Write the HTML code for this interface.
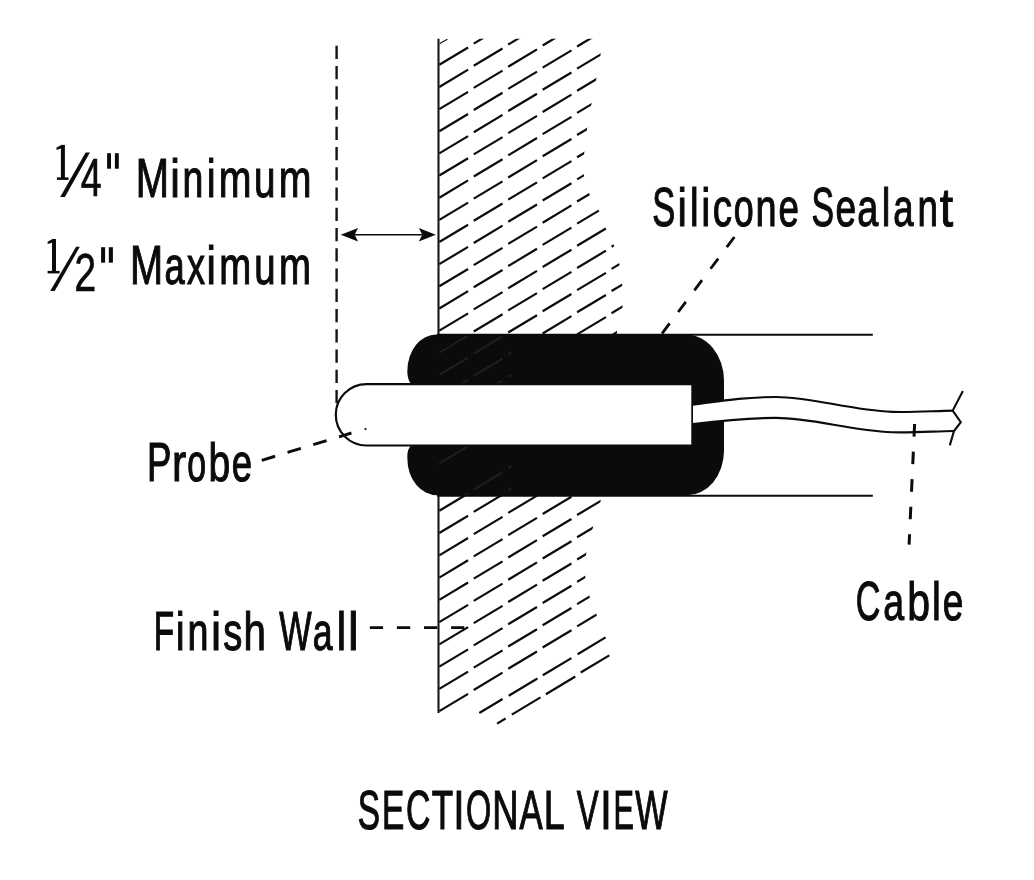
<!DOCTYPE html>
<html><head><meta charset="utf-8"><style>
html,body{margin:0;padding:0;background:#fff;width:1034px;height:880px;overflow:hidden}
svg{display:block;filter:grayscale(1)}
text{font-family:"Liberation Sans",sans-serif;fill:#0b0b0b;stroke:#0b0b0b;stroke-width:1.0px;vector-effect:non-scaling-stroke}
</style></head><body>
<svg width="1034" height="880" viewBox="0 0 1034 880">
<defs>
<clipPath id="cu"><polygon points="437,38.7 602,38.7 600.5,55.5 596,80.5 591.4,104.5 586.9,129.6 584.1,154 583.9,176 589.7,195 599.4,211.5 609,228 614,246 619.5,264.5 622.5,287 622.5,309 617,330 617,340 437,340"/></clipPath>
<clipPath id="cl"><polygon points="437,490 601,490 600.5,501.9 592.5,528.9 586,554.4 585.3,578.1 589.7,596.9 596.8,615.3 605.4,638 610.5,655.3 612,660 612,712.5 437,712.5"/></clipPath>
<clipPath id="cb"><path d="M436.4 334.5 L686 334.5 A38 46 0 0 1 724 380.5 L724 450.7 A37 44.5 0 0 1 686.6 495.3 L437.4 495.3 A30 36 0 0 1 407.4 459.3 L407.3 456 Q407.5 448.6 411.2 445.5 L411.2 384 Q407.8 380.8 407.3 372 L407.4 370.5 A29 36 0 0 1 436.4 334.5 Z"/></clipPath>
<clipPath id="cbx"><rect x="437" y="330" width="74.5" height="170"/></clipPath>
</defs>
<rect width="1034" height="880" fill="#fff"/>
<g id="hatch" stroke="#0b0b0b" stroke-width="2.2" fill="none">
<path clip-path="url(#cu)" d="M473.75 21.45L502.55 4.17M508.20 0.25L537.00 -17.03M542.65 -20.95L571.45 -38.23M577.10 -42.15L605.90 -59.43M611.55 -63.35L640.35 -80.63M439.30 64.80L468.10 47.52M473.75 43.60L502.55 26.32M508.20 22.40L537.00 5.12M542.65 1.20L571.45 -16.08M577.10 -20.00L605.90 -37.28M611.55 -41.20L640.35 -58.48M439.30 86.95L468.10 69.67M473.75 65.75L502.55 48.47M508.20 44.55L537.00 27.27M542.65 23.35L571.45 6.07M577.10 2.15L605.90 -15.13M611.55 -19.05L640.35 -36.33M439.30 109.10L468.10 91.82M473.75 87.90L502.55 70.62M508.20 66.70L537.00 49.42M542.65 45.50L571.45 28.22M577.10 24.30L605.90 7.02M611.55 3.10L640.35 -14.18M439.30 131.25L468.10 113.97M473.75 110.05L502.55 92.77M508.20 88.85L537.00 71.57M542.65 67.65L571.45 50.37M577.10 46.45L605.90 29.17M611.55 25.25L640.35 7.97M439.30 153.40L468.10 136.12M473.75 132.20L502.55 114.92M508.20 111.00L537.00 93.72M542.65 89.80L571.45 72.52M577.10 68.60L605.90 51.32M611.55 47.40L640.35 30.12M439.30 175.55L468.10 158.27M473.75 154.35L502.55 137.07M508.20 133.15L537.00 115.87M542.65 111.95L571.45 94.67M577.10 90.75L605.90 73.47M611.55 69.55L640.35 52.27M439.30 197.70L468.10 180.42M473.75 176.50L502.55 159.22M508.20 155.30L537.00 138.02M542.65 134.10L571.45 116.82M577.10 112.90L605.90 95.62M611.55 91.70L640.35 74.42M439.30 219.85L468.10 202.57M473.75 198.65L502.55 181.37M508.20 177.45L537.00 160.17M542.65 156.25L571.45 138.97M577.10 135.05L605.90 117.77M611.55 113.85L640.35 96.57M439.30 242.00L468.10 224.72M473.75 220.80L502.55 203.52M508.20 199.60L537.00 182.32M542.65 178.40L571.45 161.12M577.10 157.20L605.90 139.92M611.55 136.00L640.35 118.72M439.30 264.15L468.10 246.87M473.75 242.95L502.55 225.67M508.20 221.75L537.00 204.47M542.65 200.55L571.45 183.27M577.10 179.35L605.90 162.07M611.55 158.15L640.35 140.87M439.30 286.30L468.10 269.02M473.75 265.10L502.55 247.82M508.20 243.90L537.00 226.62M542.65 222.70L571.45 205.42M577.10 201.50L605.90 184.22M611.55 180.30L640.35 163.02M439.30 308.45L468.10 291.17M473.75 287.25L502.55 269.97M508.20 266.05L537.00 248.77M542.65 244.85L571.45 227.57M577.10 223.65L605.90 206.37M611.55 202.45L640.35 185.17M439.30 330.60L468.10 313.32M473.75 309.40L502.55 292.12M508.20 288.20L537.00 270.92M542.65 267.00L571.45 249.72M577.10 245.80L605.90 228.52M611.55 224.60L640.35 207.32M439.30 352.75L468.10 335.47M473.75 331.55L502.55 314.27M508.20 310.35L537.00 293.07M542.65 289.15L571.45 271.87M577.10 267.95L605.90 250.67M611.55 246.75L640.35 229.47M439.30 374.90L468.10 357.62M473.75 353.70L502.55 336.42M508.20 332.50L537.00 315.22M542.65 311.30L571.45 294.02M577.10 290.10L605.90 272.82M611.55 268.90L640.35 251.62M439.30 397.05L468.10 379.77M473.75 375.85L502.55 358.57M508.20 354.65L537.00 337.37M542.65 333.45L571.45 316.17M577.10 312.25L605.90 294.97M611.55 291.05L640.35 273.77M439.30 419.20L468.10 401.92M473.75 398.00L502.55 380.72M508.20 376.80L537.00 359.52M542.65 355.60L571.45 338.32M577.10 334.40L605.90 317.12M611.55 313.20L640.35 295.92M439.30 441.35L468.10 424.07M473.75 420.15L502.55 402.87M508.20 398.95L537.00 381.67M542.65 377.75L571.45 360.47M577.10 356.55L605.90 339.27M611.55 335.35L640.35 318.07M439.30 463.50L468.10 446.22M473.75 442.30L502.55 425.02M508.20 421.10L537.00 403.82M542.65 399.90L571.45 382.62M577.10 378.70L605.90 361.42M611.55 357.50L640.35 340.22M439.30 485.65L468.10 468.37M473.75 464.45L502.55 447.17M508.20 443.25L537.00 425.97M542.65 422.05L571.45 404.77M577.10 400.85L605.90 383.57M611.55 379.65L640.35 362.37M439.30 510.80L468.10 493.52M473.75 489.60L502.55 472.32M508.20 468.40L537.00 451.12M542.65 447.20L571.45 429.92M577.10 426.00L605.90 408.72M611.55 404.80L640.35 387.52M439.30 533.06L468.10 515.78M473.75 511.86L502.55 494.58M508.20 490.66L537.00 473.38M542.65 469.46L571.45 452.18M577.10 448.26L605.90 430.98M611.55 427.06L640.35 409.78M439.30 555.32L468.10 538.04M473.75 534.12L502.55 516.84M508.20 512.92L537.00 495.64M542.65 491.72L571.45 474.44M577.10 470.52L605.90 453.24M611.55 449.32L640.35 432.04M439.30 577.58L468.10 560.30M473.75 556.38L502.55 539.10M508.20 535.18L537.00 517.90M542.65 513.98L571.45 496.70M577.10 492.78L605.90 475.50M611.55 471.58L640.35 454.30M439.30 599.84L468.10 582.56M473.75 578.64L502.55 561.36M508.20 557.44L537.00 540.16M542.65 536.24L571.45 518.96M577.10 515.04L605.90 497.76M611.55 493.84L640.35 476.56M439.30 622.10L468.10 604.82M473.75 600.90L502.55 583.62M508.20 579.70L537.00 562.42M542.65 558.50L571.45 541.22M577.10 537.30L605.90 520.02M611.55 516.10L640.35 498.82M439.30 644.36L468.10 627.08M473.75 623.16L502.55 605.88M508.20 601.96L537.00 584.68M542.65 580.76L571.45 563.48M577.10 559.56L605.90 542.28M611.55 538.36L640.35 521.08M439.30 666.62L468.10 649.34M473.75 645.42L502.55 628.14M508.20 624.22L537.00 606.94M542.65 603.02L571.45 585.74M577.10 581.82L605.90 564.54M611.55 560.62L640.35 543.34M439.30 688.88L468.10 671.60M473.75 667.68L502.55 650.40M508.20 646.48L537.00 629.20M542.65 625.28L571.45 608.00M577.10 604.08L605.90 586.80M611.55 582.88L640.35 565.60M439.30 711.14L468.10 693.86M473.75 689.94L502.55 672.66M508.20 668.74L537.00 651.46M542.65 647.54L571.45 630.26M577.10 626.34L605.90 609.06M611.55 605.14L640.35 587.86"/>
<path clip-path="url(#cl)" d="M473.75 21.45L502.55 4.17M508.20 0.25L537.00 -17.03M542.65 -20.95L571.45 -38.23M577.10 -42.15L605.90 -59.43M611.55 -63.35L640.35 -80.63M439.30 64.80L468.10 47.52M473.75 43.60L502.55 26.32M508.20 22.40L537.00 5.12M542.65 1.20L571.45 -16.08M577.10 -20.00L605.90 -37.28M611.55 -41.20L640.35 -58.48M439.30 86.95L468.10 69.67M473.75 65.75L502.55 48.47M508.20 44.55L537.00 27.27M542.65 23.35L571.45 6.07M577.10 2.15L605.90 -15.13M611.55 -19.05L640.35 -36.33M439.30 109.10L468.10 91.82M473.75 87.90L502.55 70.62M508.20 66.70L537.00 49.42M542.65 45.50L571.45 28.22M577.10 24.30L605.90 7.02M611.55 3.10L640.35 -14.18M439.30 131.25L468.10 113.97M473.75 110.05L502.55 92.77M508.20 88.85L537.00 71.57M542.65 67.65L571.45 50.37M577.10 46.45L605.90 29.17M611.55 25.25L640.35 7.97M439.30 153.40L468.10 136.12M473.75 132.20L502.55 114.92M508.20 111.00L537.00 93.72M542.65 89.80L571.45 72.52M577.10 68.60L605.90 51.32M611.55 47.40L640.35 30.12M439.30 175.55L468.10 158.27M473.75 154.35L502.55 137.07M508.20 133.15L537.00 115.87M542.65 111.95L571.45 94.67M577.10 90.75L605.90 73.47M611.55 69.55L640.35 52.27M439.30 197.70L468.10 180.42M473.75 176.50L502.55 159.22M508.20 155.30L537.00 138.02M542.65 134.10L571.45 116.82M577.10 112.90L605.90 95.62M611.55 91.70L640.35 74.42M439.30 219.85L468.10 202.57M473.75 198.65L502.55 181.37M508.20 177.45L537.00 160.17M542.65 156.25L571.45 138.97M577.10 135.05L605.90 117.77M611.55 113.85L640.35 96.57M439.30 242.00L468.10 224.72M473.75 220.80L502.55 203.52M508.20 199.60L537.00 182.32M542.65 178.40L571.45 161.12M577.10 157.20L605.90 139.92M611.55 136.00L640.35 118.72M439.30 264.15L468.10 246.87M473.75 242.95L502.55 225.67M508.20 221.75L537.00 204.47M542.65 200.55L571.45 183.27M577.10 179.35L605.90 162.07M611.55 158.15L640.35 140.87M439.30 286.30L468.10 269.02M473.75 265.10L502.55 247.82M508.20 243.90L537.00 226.62M542.65 222.70L571.45 205.42M577.10 201.50L605.90 184.22M611.55 180.30L640.35 163.02M439.30 308.45L468.10 291.17M473.75 287.25L502.55 269.97M508.20 266.05L537.00 248.77M542.65 244.85L571.45 227.57M577.10 223.65L605.90 206.37M611.55 202.45L640.35 185.17M439.30 330.60L468.10 313.32M473.75 309.40L502.55 292.12M508.20 288.20L537.00 270.92M542.65 267.00L571.45 249.72M577.10 245.80L605.90 228.52M611.55 224.60L640.35 207.32M439.30 352.75L468.10 335.47M473.75 331.55L502.55 314.27M508.20 310.35L537.00 293.07M542.65 289.15L571.45 271.87M577.10 267.95L605.90 250.67M611.55 246.75L640.35 229.47M439.30 374.90L468.10 357.62M473.75 353.70L502.55 336.42M508.20 332.50L537.00 315.22M542.65 311.30L571.45 294.02M577.10 290.10L605.90 272.82M611.55 268.90L640.35 251.62M439.30 397.05L468.10 379.77M473.75 375.85L502.55 358.57M508.20 354.65L537.00 337.37M542.65 333.45L571.45 316.17M577.10 312.25L605.90 294.97M611.55 291.05L640.35 273.77M439.30 419.20L468.10 401.92M473.75 398.00L502.55 380.72M508.20 376.80L537.00 359.52M542.65 355.60L571.45 338.32M577.10 334.40L605.90 317.12M611.55 313.20L640.35 295.92M439.30 441.35L468.10 424.07M473.75 420.15L502.55 402.87M508.20 398.95L537.00 381.67M542.65 377.75L571.45 360.47M577.10 356.55L605.90 339.27M611.55 335.35L640.35 318.07M439.30 463.50L468.10 446.22M473.75 442.30L502.55 425.02M508.20 421.10L537.00 403.82M542.65 399.90L571.45 382.62M577.10 378.70L605.90 361.42M611.55 357.50L640.35 340.22M439.30 485.65L468.10 468.37M473.75 464.45L502.55 447.17M508.20 443.25L537.00 425.97M542.65 422.05L571.45 404.77M577.10 400.85L605.90 383.57M611.55 379.65L640.35 362.37M439.30 510.80L468.10 493.52M473.75 489.60L502.55 472.32M508.20 468.40L537.00 451.12M542.65 447.20L571.45 429.92M577.10 426.00L605.90 408.72M611.55 404.80L640.35 387.52M439.30 533.06L468.10 515.78M473.75 511.86L502.55 494.58M508.20 490.66L537.00 473.38M542.65 469.46L571.45 452.18M577.10 448.26L605.90 430.98M611.55 427.06L640.35 409.78M439.30 555.32L468.10 538.04M473.75 534.12L502.55 516.84M508.20 512.92L537.00 495.64M542.65 491.72L571.45 474.44M577.10 470.52L605.90 453.24M611.55 449.32L640.35 432.04M439.30 577.58L468.10 560.30M473.75 556.38L502.55 539.10M508.20 535.18L537.00 517.90M542.65 513.98L571.45 496.70M577.10 492.78L605.90 475.50M611.55 471.58L640.35 454.30M439.30 599.84L468.10 582.56M473.75 578.64L502.55 561.36M508.20 557.44L537.00 540.16M542.65 536.24L571.45 518.96M577.10 515.04L605.90 497.76M611.55 493.84L640.35 476.56M439.30 622.10L468.10 604.82M473.75 600.90L502.55 583.62M508.20 579.70L537.00 562.42M542.65 558.50L571.45 541.22M577.10 537.30L605.90 520.02M611.55 516.10L640.35 498.82M439.30 644.36L468.10 627.08M473.75 623.16L502.55 605.88M508.20 601.96L537.00 584.68M542.65 580.76L571.45 563.48M577.10 559.56L605.90 542.28M611.55 538.36L640.35 521.08M439.30 666.62L468.10 649.34M473.75 645.42L502.55 628.14M508.20 624.22L537.00 606.94M542.65 603.02L571.45 585.74M577.10 581.82L605.90 564.54M611.55 560.62L640.35 543.34M439.30 688.88L468.10 671.60M473.75 667.68L502.55 650.40M508.20 646.48L537.00 629.20M542.65 625.28L571.45 608.00M577.10 604.08L605.90 586.80M611.55 582.88L640.35 565.60M439.30 711.14L468.10 693.86M473.75 689.94L502.55 672.66M508.20 668.74L537.00 651.46M542.65 647.54L571.45 630.26M577.10 626.34L605.90 609.06M611.55 605.14L640.35 587.86"/>
<path d="M479.30 713.00L502.60 699.02M508.70 695.70L537.40 678.48M542.80 675.30L571.40 658.14M577.60 654.20L605.60 637.40M511.80 714.60L540.50 697.38M545.90 694.20L575.30 676.56M580.70 672.50L609.30 655.34M497.10 723.60L505.60 718.50"/>
<path d="M439.7 43.6L447.4 39.3" stroke-width="1.1"/>
</g>
<line x1="438.5" y1="38.7" x2="438.5" y2="713" stroke="#161616" stroke-width="2.1"/>
<line x1="336.6" y1="45.7" x2="336.6" y2="403" stroke="#141414" stroke-width="2.4" stroke-dasharray="13.2 7.05"/>
<!-- dimension arrow -->
<line x1="352" y1="234.7" x2="424" y2="234.7" stroke="#0b0b0b" stroke-width="1.5"/>
<polygon points="340.7,234.7 358.1,227.9 354.6,234.7 358.1,241.5" fill="#0b0b0b"/>
<polygon points="435.8,234.7 418.8,227.9 422.3,234.7 418.8,241.5" fill="#0b0b0b"/>
<!-- blob -->
<path d="M436.4 334.5 L686 334.5 A38 46 0 0 1 724 380.5 L724 450.7 A37 44.5 0 0 1 686.6 495.3 L437.4 495.3 A30 36 0 0 1 407.4 459.3 L407.3 456 Q407.5 448.6 411.2 445.5 L411.2 384 Q407.8 380.8 407.3 372 L407.4 370.5 A29 36 0 0 1 436.4 334.5 Z" fill="#0b0b0b"/>
<g clip-path="url(#cb)"><g clip-path="url(#cbx)"><path d="M439.30 42.65L468.10 25.37M473.75 21.45L502.55 4.17M508.20 0.25L537.00 -17.03M439.30 64.80L468.10 47.52M473.75 43.60L502.55 26.32M508.20 22.40L537.00 5.12M439.30 86.95L468.10 69.67M473.75 65.75L502.55 48.47M508.20 44.55L537.00 27.27M439.30 109.10L468.10 91.82M473.75 87.90L502.55 70.62M508.20 66.70L537.00 49.42M439.30 131.25L468.10 113.97M473.75 110.05L502.55 92.77M508.20 88.85L537.00 71.57M439.30 153.40L468.10 136.12M473.75 132.20L502.55 114.92M508.20 111.00L537.00 93.72M439.30 175.55L468.10 158.27M473.75 154.35L502.55 137.07M508.20 133.15L537.00 115.87M439.30 197.70L468.10 180.42M473.75 176.50L502.55 159.22M508.20 155.30L537.00 138.02M439.30 219.85L468.10 202.57M473.75 198.65L502.55 181.37M508.20 177.45L537.00 160.17M439.30 242.00L468.10 224.72M473.75 220.80L502.55 203.52M508.20 199.60L537.00 182.32M439.30 264.15L468.10 246.87M473.75 242.95L502.55 225.67M508.20 221.75L537.00 204.47M439.30 286.30L468.10 269.02M473.75 265.10L502.55 247.82M508.20 243.90L537.00 226.62M439.30 308.45L468.10 291.17M473.75 287.25L502.55 269.97M508.20 266.05L537.00 248.77M439.30 330.60L468.10 313.32M473.75 309.40L502.55 292.12M508.20 288.20L537.00 270.92M439.30 352.75L468.10 335.47M473.75 331.55L502.55 314.27M508.20 310.35L537.00 293.07M439.30 374.90L468.10 357.62M473.75 353.70L502.55 336.42M508.20 332.50L537.00 315.22M439.30 397.05L468.10 379.77M473.75 375.85L502.55 358.57M508.20 354.65L537.00 337.37M439.30 419.20L468.10 401.92M473.75 398.00L502.55 380.72M508.20 376.80L537.00 359.52M439.30 441.35L468.10 424.07M473.75 420.15L502.55 402.87M508.20 398.95L537.00 381.67M439.30 463.50L468.10 446.22M473.75 442.30L502.55 425.02M508.20 421.10L537.00 403.82M439.30 510.80L468.10 493.52M473.75 489.60L502.55 472.32M508.20 468.40L537.00 451.12M439.30 533.06L468.10 515.78M473.75 511.86L502.55 494.58M508.20 490.66L537.00 473.38M439.30 555.32L468.10 538.04M473.75 534.12L502.55 516.84M508.20 512.92L537.00 495.64M439.30 577.58L468.10 560.30M473.75 556.38L502.55 539.10M508.20 535.18L537.00 517.90M439.30 599.84L468.10 582.56M473.75 578.64L502.55 561.36M508.20 557.44L537.00 540.16M439.30 622.10L468.10 604.82M473.75 600.90L502.55 583.62M508.20 579.70L537.00 562.42M439.30 644.36L468.10 627.08M473.75 623.16L502.55 605.88M508.20 601.96L537.00 584.68M439.30 666.62L468.10 649.34M473.75 645.42L502.55 628.14M508.20 624.22L537.00 606.94M439.30 688.88L468.10 671.60M473.75 667.68L502.55 650.40M508.20 646.48L537.00 629.20M439.30 711.14L468.10 693.86M473.75 689.94L502.55 672.66M508.20 668.74L537.00 651.46" stroke="#1f1f1f" stroke-width="2" fill="none"/></g></g>
<line x1="437" y1="334.8" x2="872.8" y2="334.8" stroke="#0b0b0b" stroke-width="2"/>
<line x1="437" y1="495.7" x2="872.8" y2="495.7" stroke="#0b0b0b" stroke-width="2"/>
<!-- probe -->
<path d="M692.4 384.1 L366.5 384.1 A30.7 30.7 0 0 0 366.5 445.5 L692.4 445.5 Z" fill="#fff" stroke="#0b0b0b" stroke-width="2.2"/>
<!-- cable -->
<path d="M693 404.8 C730 399.5 750 397 776 397 C812 397 850 410.2 892 411.9 C915 412.5 935 410.8 953 410.6 L954 431 C935 431.2 915 432.9 892 432.3 C850 430.5 812 417.9 776 417.9 C750 417.9 730 419.5 693 424.1 Z" fill="#fff"/>
<path d="M693 404.8 C730 399.5 750 397 776 397 C812 397 850 410.2 892 411.9 C915 412.5 935 410.8 953 410.6" stroke="#0b0b0b" stroke-width="2.1" fill="none"/>
<path d="M693 424.1 C730 419.5 750 417.9 776 417.9 C812 417.9 850 430.5 892 432.3 C915 432.9 935 431.2 954 431" stroke="#0b0b0b" stroke-width="2.1" fill="none"/>
<polyline points="962.9,390.9 952.7,410.6 960.8,422.2 954,431 949.8,445.4" stroke="#0b0b0b" stroke-width="2.1" fill="none"/>
<!-- leaders -->
<line x1="261.8" y1="460.3" x2="351.4" y2="433" stroke="#0b0b0b" stroke-width="2.9" stroke-dasharray="13.9 13"/>
<circle cx="365.5" cy="429.1" r="1.1" fill="#0b0b0b"/>
<line x1="734.4" y1="237" x2="662" y2="333.6" stroke="#0b0b0b" stroke-width="2.8" stroke-dasharray="12.7 14.3"/>
<line x1="914.6" y1="424" x2="909.1" y2="544.6" stroke="#0b0b0b" stroke-width="3" stroke-dasharray="12.6 15"/>
<line x1="369.8" y1="627.6" x2="464.3" y2="627.6" stroke="#0b0b0b" stroke-width="2.8" stroke-dasharray="13.3 13.8"/>
<!-- fractions -->
<g id="f14" fill="#0b0b0b">
<rect x="60.9" y="144.9" width="4" height="34"/>
<polygon points="64.9,144.9 61.5,144.9 56.5,147.6 56.5,150 60.9,148.6"/>
<rect x="56.9" y="177.4" width="11.6" height="2.5"/>
<polygon points="60.2,197 64.9,197 89.9,152.6 85.6,152.6"/>
<rect x="107.1" y="153.2" width="3.9" height="15.5"/>
<rect x="114.9" y="153.2" width="3.9" height="15.5"/>
</g>
<g id="f12" fill="#0b0b0b">
<rect x="52" y="239" width="4" height="34"/>
<polygon points="56,239 52.6,239 47.6,241.7 47.6,244.1 52,242.7"/>
<rect x="47.6" y="270.9" width="12" height="2.5"/>
<polygon points="50.2,291 54.7,291 79.8,246.8 76.1,246.8"/>
<rect x="101.1" y="247.2" width="4" height="15.5"/>
<rect x="108.8" y="247.2" width="4.1" height="15.5"/>
</g>
<g><text transform="translate(135.73,196.90) scale(0.7102,1)" font-size="56.20">M</text><text transform="translate(170.31,196.90) scale(0.8098,1)" font-size="53.39">i</text><text transform="translate(182.41,196.90) scale(0.7010,1)" font-size="53.39">n</text><text transform="translate(206.64,196.90) scale(0.7459,1)" font-size="53.39">i</text><text transform="translate(218.69,196.90) scale(0.7351,1)" font-size="53.39">m</text><text transform="translate(254.09,196.90) scale(0.7231,1)" font-size="53.39">u</text><text transform="translate(278.69,196.90) scale(0.7351,1)" font-size="53.39">m</text><text transform="translate(130.04,283.70) scale(0.7075,1)" font-size="56.20">M</text><text transform="translate(164.56,283.70) scale(0.6793,1)" font-size="53.39">a</text><text transform="translate(186.90,283.70) scale(0.6739,1)" font-size="53.39">x</text><text transform="translate(206.48,283.70) scale(0.7885,1)" font-size="53.39">i</text><text transform="translate(219.15,283.70) scale(0.7191,1)" font-size="53.39">m</text><text transform="translate(254.21,283.70) scale(0.7187,1)" font-size="53.39">u</text><text transform="translate(279.05,283.70) scale(0.7191,1)" font-size="53.39">m</text><text transform="translate(652.24,225.60) scale(0.6120,1)" font-size="56.20">S</text><text transform="translate(677.58,225.60) scale(0.7885,1)" font-size="53.39">i</text><text transform="translate(689.89,225.60) scale(0.7246,1)" font-size="53.39">l</text><text transform="translate(701.36,225.60) scale(0.7672,1)" font-size="53.39">i</text><text transform="translate(712.66,225.60) scale(0.7211,1)" font-size="53.39">c</text><text transform="translate(733.80,225.60) scale(0.6704,1)" font-size="53.39">o</text><text transform="translate(755.58,225.60) scale(0.7099,1)" font-size="53.39">n</text><text transform="translate(778.44,225.60) scale(0.6866,1)" font-size="53.39">e</text><text transform="translate(811.57,225.60) scale(0.5996,1)" font-size="56.20">S</text><text transform="translate(835.42,225.60) scale(0.6945,1)" font-size="53.39">e</text><text transform="translate(857.19,225.60) scale(0.7078,1)" font-size="53.39">a</text><text transform="translate(881.69,225.60) scale(0.7246,1)" font-size="53.39">l</text><text transform="translate(893.25,225.60) scale(0.6834,1)" font-size="53.39">a</text><text transform="translate(917.56,225.60) scale(0.6878,1)" font-size="53.39">n</text><text transform="translate(939.77,225.60) scale(0.9021,1)" font-size="53.39">t</text><text transform="translate(146.99,480.80) scale(0.6519,1)" font-size="56.20">P</text><text transform="translate(171.96,480.80) scale(0.8016,1)" font-size="53.39">r</text><text transform="translate(187.18,480.80) scale(0.6347,1)" font-size="53.39">o</text><text transform="translate(208.38,480.80) scale(0.7330,1)" font-size="53.39">b</text><text transform="translate(231.75,480.80) scale(0.6826,1)" font-size="53.39">e</text><text transform="translate(153.66,649.70) scale(0.5934,1)" font-size="56.20">F</text><text transform="translate(175.74,649.70) scale(0.7459,1)" font-size="53.39">i</text><text transform="translate(187.40,649.70) scale(0.7055,1)" font-size="53.39">n</text><text transform="translate(211.06,649.70) scale(0.8524,1)" font-size="53.39">i</text><text transform="translate(223.34,649.70) scale(0.7131,1)" font-size="53.39">s</text><text transform="translate(243.51,649.70) scale(0.7548,1)" font-size="53.39">h</text><text transform="translate(279.25,649.70) scale(0.6102,1)" font-size="56.20">W</text><text transform="translate(312.69,649.70) scale(0.6671,1)" font-size="53.39">a</text><text transform="translate(336.86,649.70) scale(0.7885,1)" font-size="53.39">l</text><text transform="translate(348.08,649.70) scale(0.8950,1)" font-size="53.39">l</text><text transform="translate(855.77,620.20) scale(0.6069,1)" font-size="56.20">C</text><text transform="translate(883.20,620.20) scale(0.7037,1)" font-size="53.39">a</text><text transform="translate(907.16,620.20) scale(0.7664,1)" font-size="53.39">b</text><text transform="translate(932.12,620.20) scale(0.7459,1)" font-size="53.39">l</text><text transform="translate(942.73,620.20) scale(0.6905,1)" font-size="53.39">e</text><text transform="translate(357.69,829.30) scale(0.5934,1)" font-size="56.20">S</text><text transform="translate(382.06,829.30) scale(0.5942,1)" font-size="56.20">E</text><text transform="translate(405.88,829.30) scale(0.6013,1)" font-size="56.20">C</text><text transform="translate(431.81,829.30) scale(0.6231,1)" font-size="56.20">T</text><text transform="translate(453.24,829.30) scale(0.7250,1)" font-size="56.20">I</text><text transform="translate(465.96,829.30) scale(0.5787,1)" font-size="56.20">O</text><text transform="translate(492.22,829.30) scale(0.6466,1)" font-size="56.20">N</text><text transform="translate(519.53,829.30) scale(0.6172,1)" font-size="56.20">A</text><text transform="translate(543.71,829.30) scale(0.6699,1)" font-size="56.20">L</text><text transform="translate(576.86,829.30) scale(0.5839,1)" font-size="56.20">V</text><text transform="translate(600.04,829.30) scale(0.7632,1)" font-size="56.20">I</text><text transform="translate(613.39,829.30) scale(0.5450,1)" font-size="56.20">E</text><text transform="translate(635.25,829.30) scale(0.6102,1)" font-size="56.20">W</text><text transform="translate(80.63,196.30) scale(0.6982,1)" font-size="54.00" style="stroke-width:0.6px">4</text><text transform="translate(74.16,290.65) scale(0.7372,1)" font-size="53.60" style="stroke-width:0.5px">2</text></g>
</svg>
</body></html>
